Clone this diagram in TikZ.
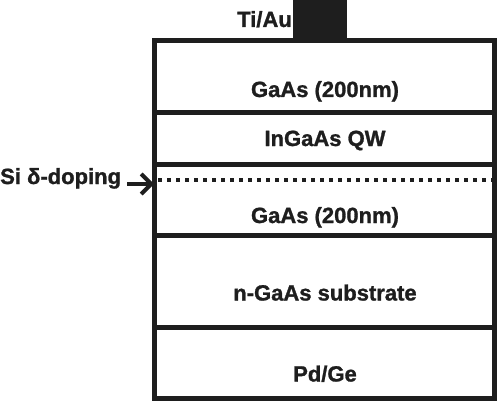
\documentclass[tikz,border=0pt]{standalone}
\usepackage{fontspec}
\setmainfont{Liberation Sans}[BoldFont={Liberation Sans Bold},BoldFeatures={FakeBold=1.2}]
\usetikzlibrary{arrows.meta}
\definecolor{ink}{HTML}{1E1E1E}
\begin{document}
\begin{tikzpicture}[x=1pt,y=-1pt,
  layer/.style={draw=ink,line width=5pt,minimum width=340pt,inner sep=0pt,outer sep=0pt,anchor=north west},
  lbl/.style={font=\fontsize{22}{24}\selectfont\bfseries,text=ink,anchor=base,inner sep=0pt}]
\useasboundingbox (0,0) rectangle (500,401);
% contact
\node[fill=ink,draw=none,minimum width=54pt,minimum height=42pt,inner sep=0pt,anchor=north west] (contact) at (293,-2) {};
% layers
\node[layer,minimum height=72.5pt] (l1) at (154.5,40.5) {};
\node[layer,minimum height=51.5pt] (l2) at (154.5,113) {};
\node[layer,minimum height=71pt] (l3) at (154.5,164.5) {};
\node[layer,minimum height=92pt] (l4) at (154.5,235.5) {};
\node[layer,minimum height=70.5pt] (l5) at (154.5,327.5) {};
% texts
\node[lbl,anchor=base east] (tiau) at (292,27) {Ti/Au};
\node[lbl] (t1) at (325,97) {GaAs (200nm)};
\node[lbl] (t2) at (325,146) {InGaAs QW};
\node[lbl] (t3) at (325,223) {GaAs (200nm)};
\node[lbl] (t4) at (325,300.5) {n-GaAs substrate};
\node[lbl] (t5) at (325,381.5) {Pd/Ge};
\node[lbl,anchor=base west] (si) at (0,184) {Si δ-doping};
% delta doping line
\coordinate (dL) at (158,180);
\coordinate (dR) at (492,180);
\draw[ink,line width=4pt,dash pattern=on 4pt off 5pt] (dL) -- (dR);
\coordinate (aS) at (127,184);
\coordinate (aE) at (154,184);
\draw[ink,line width=4pt,-{Straight Barb[length=10pt,width=20pt,line width=4pt]}] (aS) -- (aE);
\end{tikzpicture}
\end{document}
